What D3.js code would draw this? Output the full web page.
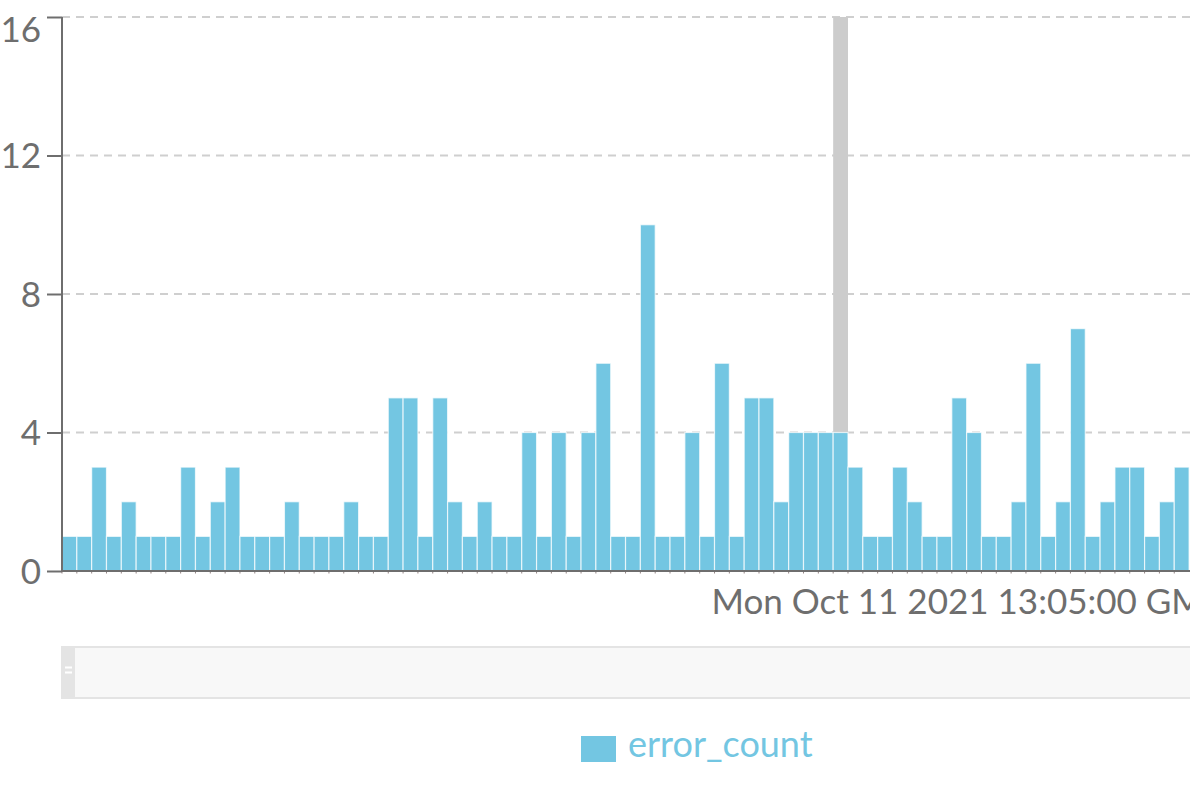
<!DOCTYPE html>
<html>
<head>
<meta charset="utf-8">
<script src="https://cdn.jsdelivr.net/npm/d3@7"></script>
<style>
  html, body {margin: 0; padding: 0; background: #fff; overflow: hidden;}
  svg {display: block; font-family: Lato, sans-serif;}
</style>
</head>
<body>
<div id="chart"></div>
<script>
// bar values, one per 5 minute bucket
const errorCount = [
  1, 1, 3, 1, 2, 1, 1, 1, 3, 1, 2, 3, 1, 1, 1, 2, 1, 1, 1, 2, 1, 1, 5,
  5, 1, 5, 2, 1, 2, 1, 1, 4, 1, 4, 1, 4, 6, 1, 1, 10, 1, 1, 4, 1, 6, 1,
  5, 5, 2, 4, 4, 4, 4, 3, 1, 1, 3, 2, 1, 1, 5, 4, 1, 1, 2, 6, 1, 2, 7,
  1, 2, 3, 3, 1, 2, 3,
];
const startTime = new Date(2021, 9, 11, 9, 25);
const times = d3.timeMinute.every(5).range(startTime,
  d3.timeMinute.offset(startTime, 5 * errorCount.length));
const yTicks = [0, 4, 8, 12, 16];
const xLabels = [
  {index: 44, text: 'Mon Oct 11 2021 13:05:00 GMT+0800 (China Standard Time)'},
];
const seriesName = 'error_count';
const hoverIndex = 52;

const totalWidth = 1190;
const totalHeight = 792;
const margin = {top: 17, left: 62, bottom: 221};
const step = 14.83;
const axisColor = '#6e6e6e';
const barColor = '#73c6e2';

let svg = d3.select('#chart').append('svg')
    .attr('width', totalWidth)
    .attr('height', totalHeight);

let x = d3.scaleBand()
    .domain(times)
    .range([margin.left, margin.left + step * times.length])
    .padding(0);

let y = d3.scaleLinear()
    .domain([0, 16])
    .range([totalHeight - margin.bottom, margin.top]);

// dashed grid
svg.append('g')
  .selectAll('line')
  .data(yTicks.filter(function(d) {
    return d > 0;
  }))
  .enter().append('line')
    .attr('x1', margin.left)
    .attr('x2', totalWidth)
    .attr('y1', function(d) {
      return y(d);
    })
    .attr('y2', function(d) {
      return y(d);
    })
    .attr('stroke', '#cfcfcf')
    .attr('stroke-width', 2)
    .attr('stroke-dasharray', '8,6');

// hover shadow
svg.append('rect')
    .attr('x', x(times[hoverIndex]))
    .attr('y', y(16))
    .attr('width', x.bandwidth())
    .attr('height', y(0) - y(16))
    .attr('fill', '#cccccc');

svg.append('g')
  .selectAll('rect')
  .data(errorCount)
  .enter().append('rect')
    .attr('x', function(d, i) {
      return x(times[i]);
    })
    .attr('y', function(d) {
      return y(d);
    })
    .attr('width', x.bandwidth())
    .attr('height', function(d) {
      return y(0) - y(d);
    })
    .attr('fill', barColor)
    .attr('stroke', '#ffffff')
    .attr('stroke-opacity', 0.7)
    .attr('stroke-width', 1.2);

// y axis
let yAxis = svg.append('g')
    .attr('transform', 'translate(' + margin.left + ',0)')
    .call(d3.axisLeft(y).tickValues(yTicks).tickSize(15).tickPadding(6));
yAxis.select('.domain')
    .attr('stroke', axisColor)
    .attr('stroke-width', 2)
    .attr('d', 'M0,' + y(16) + 'V' + y(0));
yAxis.selectAll('.tick line')
    .attr('stroke', axisColor)
    .attr('stroke-width', 2);
yAxis.selectAll('.tick text')
    .attr('fill', axisColor)
    .attr('font-size', 35)
    .attr('font-family', 'Lato, sans-serif')
    .attr('dy', function(d) {
      // keep the top label inside the view
      return d === 16 ? '0.7em' : '0.35em';
    });

// x axis with small ticks on bucket edges
let xAxis = svg.append('g')
    .attr('transform', 'translate(0,' + y(0) + ')');
xAxis.selectAll('line.tick')
  .data(times)
  .enter().append('line')
    .attr('class', 'tick')
    .attr('x1', function(d) {
      return x(d);
    })
    .attr('x2', function(d) {
      return x(d);
    })
    .attr('y1', 0)
    .attr('y2', 2.5)
    .attr('stroke', '#7a6666')
    .attr('stroke-opacity', 0.8)
    .attr('stroke-width', 1);
xAxis.append('line')
    .attr('x1', margin.left)
    .attr('x2', totalWidth)
    .attr('stroke', axisColor)
    .attr('stroke-width', 2);
xAxis.selectAll('text')
  .data(xLabels)
  .enter().append('text')
    .attr('x', function(d) {
      return x(times[d.index]) - 3;
    })
    .attr('y', 43)
    .attr('fill', axisColor)
    .attr('font-size', 35)
    .text(function(d) {
      return d.text;
    });

// slider below the plot
let slider = svg.append('g').attr('transform', 'translate(0,646)');
slider.append('rect')
    .attr('x', margin.left)
    .attr('y', 1)
    .attr('width', totalWidth)
    .attr('height', 51)
    .attr('fill', '#f8f8f8')
    .attr('stroke', '#e4e4e4')
    .attr('stroke-width', 2);
slider.append('rect')
    .attr('x', margin.left)
    .attr('y', 0)
    .attr('width', 13)
    .attr('height', 53)
    .attr('fill', '#e4e4e4');
[20.5, 25.5].forEach(function(dy) {
  slider.append('rect')
      .attr('x', margin.left + 3)
      .attr('y', dy)
      .attr('width', 7)
      .attr('height', 2)
      .attr('fill', '#ffffff');
});

// legend
let legend = svg.append('g').attr('transform', 'translate(581,736)');
legend.append('rect')
    .attr('width', 35)
    .attr('height', 26)
    .attr('fill', barColor);
legend.append('text')
    .attr('x', 47)
    .attr('y', 21)
    .attr('fill', barColor)
    .attr('font-size', 36)
    .text(seriesName);
</script>
</body>
</html>
